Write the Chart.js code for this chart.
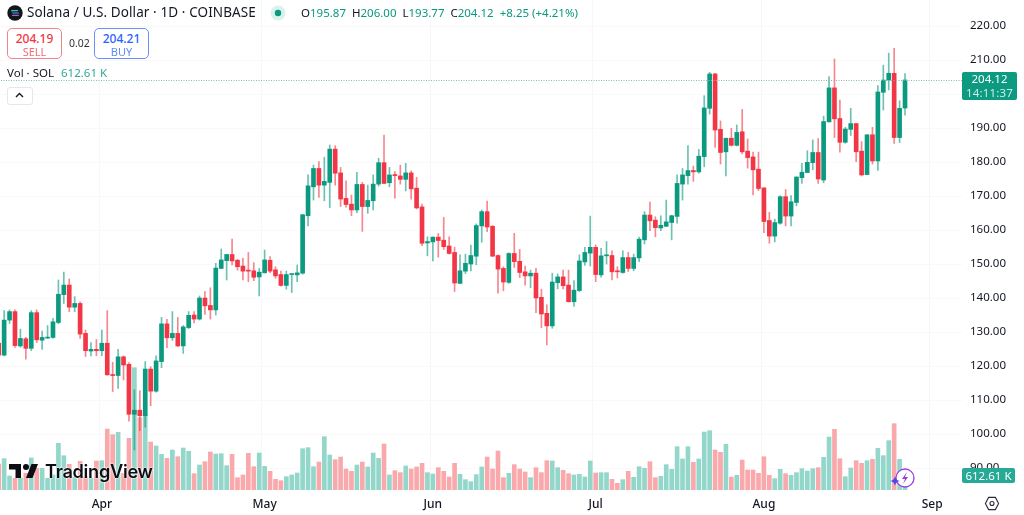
<!DOCTYPE html>
<html>
<head>
<meta charset="utf-8">
<title>Solana / U.S. Dollar</title>
<script src="https://cdn.jsdelivr.net/npm/chart.js@4/dist/chart.umd.js"></script>
<style>
  html, body { margin: 0; padding: 0; background: #fff; width: 1024px; height: 515px; overflow: hidden; }
  body { position: relative; font-family: "Noto Sans", sans-serif; color: #131722; }
  #chart { position: absolute; left: -4px; top: 0; }
  .txt { position: absolute; white-space: nowrap; line-height: 1; }
  .box { position: absolute; top: 28px; width: 53px; height: 29px; border: 1px solid; border-radius: 5px; background: #fff; text-align: center; }
  .box b { display: block; font-weight: 500; font-size: 12px; margin-top: 3px; line-height: 14px; }
  .box span { display: block; font-size: 11px; line-height: 12px; opacity: .75; }
  .tag { position: absolute; color: #fff; border-radius: 2px; text-align: center; }
  .g { color: #089981; }
  svg { position: absolute; overflow: visible; }
</style>
</head>
<body>
<canvas id="chart" width="1028" height="515"></canvas>

<svg style="left:7px;top:5px" width="16" height="16" viewBox="0 0 16 16">
  <circle cx="8" cy="8" r="7.7" fill="#14161c"/>
  <path d="M4.6 5h6.8l-1 1.2H3.6z" fill="#27d9b0"/><path d="M4.6 7.4h6.8l1 1.2H5.6z" fill="#5aa5e0"/><path d="M4.6 11h6.8l1-1.2H5.6z" fill="#a35cf0"/>
</svg>
<div class="txt" style="left:27px;top:6px;font-size:13.5px;letter-spacing:.1px">Solana / U.S. Dollar · 1D · COINBASE</div>
<svg style="left:270px;top:5px" width="16" height="16"><circle cx="8" cy="8" r="7.5" fill="#d9f2ec"/><circle cx="8" cy="8" r="3.2" fill="#089981"/></svg>
<div class="txt" style="left:301px;top:7px;font-size:11.5px">O<span class="g">195.87</span>&nbsp; H<span class="g">206.00</span>&nbsp; L<span class="g">193.77</span>&nbsp; C<span class="g">204.12</span>&nbsp; <span class="g">+8.25 (+4.21%)</span></div>

<div class="box" style="left:7px;border-color:#f2828c;color:#f23645"><b>204.19</b><span>SELL</span></div>
<div class="txt" style="left:69px;top:38px;font-size:10.5px;color:#333">0.02</div>
<div class="box" style="left:94px;border-color:#6d8ff5;color:#2962ff"><b>204.21</b><span>BUY</span></div>

<div class="txt" style="left:7px;top:67px;font-size:11.5px">Vol · SOL</div>
<div class="txt g" style="left:61px;top:67px;font-size:11.5px;opacity:.85">612.61 K</div>

<div style="position:absolute;left:7px;top:87px;width:24px;height:16px;border:1px solid #e6e8ee;border-radius:3px;background:#fff"></div>
<svg style="left:14px;top:91px" width="11" height="8"><path d="M2 6l3.5-3.5L9 6" fill="none" stroke="#131722" stroke-width="1.4"/></svg>

<div class="tag" style="left:962px;top:72px;width:55px;height:28px;background:#0c9a80;font-size:11.5px;line-height:14px">204.12<br><span style="opacity:.8;letter-spacing:.2px">14:11:37</span></div>
<div class="tag" style="left:962px;top:468px;width:53px;height:15px;background:#26a995;font-size:11.5px;line-height:15px">612.61 K</div>

<svg style="left:9px;top:463px" width="30" height="17" viewBox="0 0 30 17">
  <path d="M0 1h12v14H6.5V6.5H0z" fill="#0c0e14"/><circle cx="17" cy="4" r="3" fill="#0c0e14"/><path d="M22.5 1H29l-5.5 14H17z" fill="#0c0e14"/>
</svg>
<div class="txt" style="left:45px;top:462px;font-family:Inter,sans-serif;font-weight:600;font-size:18.2px;letter-spacing:-.3px;color:#0c0e14;text-shadow:0 0 2px #fff,0 0 2px #fff">TradingView</div>

<svg style="left:890px;top:468px" width="26" height="24" viewBox="0 0 26 24">
  <circle cx="15" cy="10" r="9" fill="#fff" stroke="#9a3fe0" stroke-width="1.3"/>
  <path d="M17 4l-5 7h3l-2 5 5-7h-3z" fill="#9a3fe0"/>
  <path d="M5 8c.6 3.2 1.8 4.4 5 5-3.2.6-4.4 1.8-5 5-.6-3.2-1.8-4.4-5-5 3.2-.6 4.4-1.8 5-5z" fill="#4f46ee"/>
</svg>
<svg style="left:985px;top:496px" width="14" height="15" viewBox="0 0 14 15">
  <path d="M3.6 1.4h6.8L13.6 7.5l-3.2 6.1H3.6L.4 7.5z" fill="none" stroke="#2a2e39" stroke-width="1.1"/><circle cx="7" cy="7.5" r="2" fill="none" stroke="#2a2e39" stroke-width="1.1"/>
</svg>

<script>
const priceTicks = [90, 100, 110, 120, 130, 140, 150, 160, 170, 180, 190, 200, 210, 220];
const monthTicks = { 'Apr 1': 'Apr', 'May 1': 'May', 'Jun 1': 'Jun', 'Jul 1': 'Jul', 'Aug 1': 'Aug', 'Sep 1': 'Sep' };
const lastPrice = 204.12;

const opens = [
  126.7,123.2,133.5,136,125.9,128,125.2,135.7,127.6,128.2,
  128.4,132.8,141,143.8,137.3,138.4,129.6,124.4,124.9,124.5,
  126.7,117.5,117.2,122.7,120.5,105.8,107,105.4,119.1,112.6,
  121.3,132.4,128.3,129.6,125.9,131.3,135,133.8,140,137.8,
  136.5,148.7,151,152.8,151.1,149.4,148.1,148,146.2,147.4,
  151.1,148.3,146.9,143.7,146.9,146.8,147.3,164.2,172.7,178.1,
  173.2,174,183.8,176.8,169.3,167.6,165.9,173.4,166.9,168.6,
  173.5,179.8,173.9,176.3,175.9,174.9,176.8,172.3,166.8,156.2,
  156.5,157.9,157,155.3,153.4,144.3,147.9,150,152.3,161.2,
  165.4,161.1,152.5,148.7,144.6,153.1,150.8,147.7,146.5,147.3,
  140.2,135.5,131.8,144.5,146.2,143.8,138.9,142.2,150.6,153.2,
  154.9,146.8,152.4,152.5,148,147.5,151.9,148.7,151.8,157.1,
  164.4,162.9,160.6,161.1,162.2,164,173.5,176,177.5,177.1,
  181.6,195.8,205.9,189.6,183,187,184.9,188.9,183.2,181.5,
  177.9,172.4,162.8,158.2,162,169.8,164.1,168.1,175.4,176.9,
  179.8,182.8,174.7,191.8,201.8,192.8,185.8,189.6,191.3,183.2,
  176.3,188,180.3,200.5,204.1,206.1,187.2,195.87
];
const closes = [
  123.2,133.5,136,126,128.1,125.2,135.7,127.7,128.4,128.4,
  133,141.1,143.8,137.3,138.4,129.4,124.5,124.9,124.5,126.7,
  117.4,117.2,122.7,120.3,105.8,107,105.4,119.1,112.6,121.5,
  132.4,128.3,129.6,125.9,131.5,134.9,133.8,140,137.7,136.5,
  148.8,151.2,152.8,150.9,149.2,147.9,147.9,146.1,147.6,151.2,
  147.9,146.5,143.7,146.9,147,147.4,164.5,173,178.1,173.2,
  174.3,183.8,176.7,169.1,167.5,165.9,173.4,166.9,168.7,173.5,
  179.8,173.7,176.2,176,174.9,176.8,172.1,166.5,156.1,156.6,
  157.9,156.9,155.1,153.1,144.4,148,150.2,152.5,161.3,165.4,
  160.9,152.3,148.5,144.7,153.1,150.7,147.5,146.5,147.3,140,
  135.3,131.8,144.7,146.2,143.6,138.9,142.3,150.9,153.4,154.9,
  146.9,152.4,152.6,147.7,147.7,151.9,148.7,151.9,157.3,164.4,
  162.7,160.7,161.4,162.4,164.2,173.7,176.2,177.5,177.1,181.7,
  195.9,205.9,189.4,182.8,187,184.9,188.7,183,181.3,177.7,
  172.2,162.5,158.2,162.2,169.8,164.1,168.3,175.6,177,179.9,
  182.8,175,191.9,201.8,192.7,185.8,189.7,191.3,183,176.2,
  188,180.3,200.6,204.1,206.1,187.2,195.8,204.12
];
const highs = [
  128.1,136.3,136.5,136.5,130.8,128.4,136.3,136.5,130.3,131.9,
  134,145.3,147.6,145.6,140.4,138.9,130.6,126.9,127.8,130.6,
  136.3,121.1,124.9,123,121,113,112.7,121.3,119.8,123,
  134.3,133.7,136,134.3,131.9,136,136,140.6,141.9,143,
  150.2,154.4,152.8,157.3,151.4,151.7,153.4,150.4,148.7,154.1,
  152.2,149.2,147.9,147.9,147.1,149.7,164.6,176.2,179.1,180.1,
  181.4,185,184.8,178.4,174.5,170.3,177,174,173.2,176.2,
  181.1,187.9,178.4,177.2,179.1,179.6,177.4,175.5,167.6,158,
  158,159,163.7,158,154.9,152.7,152.9,155.6,161.8,165.9,
  168.5,161.3,152.7,149.2,153.3,159,154.3,149.4,148.2,148.7,
  142.6,138,147.3,147.1,148.2,148.2,145.1,152.7,154.9,164.1,
  155.6,154.6,156.6,153.9,149.2,153.9,153.4,152.9,157.9,165.4,
  168.2,163.9,164.2,168.8,164.4,176.2,178.1,184.8,178.8,183.7,
  199.5,206.4,206.1,192.1,187,189.9,190.9,195.5,186.8,182.9,
  182.9,172.4,165.2,163.2,170.1,171.9,170.1,175.6,179.6,183.3,
  186.5,186.9,193.5,205.1,210.3,198.2,190.2,195.8,191.4,186,
  188.1,190.2,202.5,208.5,212,213.4,198,206
];
const lows = [
  123,123,132.5,125.5,125.5,122,124.5,126.9,124.9,128.1,
  128.1,132.4,138.4,136,136,128.1,122.8,123,123,123,
  117.3,112.5,113.4,115.9,103.8,95.3,101,102,108.3,112.3,
  119.5,125.4,127.5,125.7,123.7,131,132.7,133.5,135.2,133.8,
  135,148.7,145.3,149.7,148.2,145.3,144.8,145.1,140.6,147.4,
  147.4,145.8,143.5,142.6,141.6,144.8,147,161.2,168.8,169.6,
  168.6,166.6,173.2,166.9,166.7,164.2,165.1,159.6,164.9,165.9,
  172.9,173.6,172.7,169.4,173.5,171.5,169.1,166.2,155.4,152.4,
  150.9,152,154.3,152.9,141.9,144.3,147.2,148,149.8,156.4,
  159.5,152.2,141.4,142.1,144.3,149,146,143.8,143,135.7,
  131.3,126.2,131.1,142.7,142.7,138.8,137.5,141.9,149.6,149.4,
  144.8,146.1,150,145.3,145.9,147.3,147.8,148,150.7,155.9,
  159.8,158,159.8,161,157.1,162,168.8,173.5,174.3,176.7,
  178.6,194.1,184.3,179.4,175.9,184.7,184.7,182.4,178.2,170.3,
  171.6,159.2,156.1,156.5,161.7,161.2,161.2,167.1,173.7,176.9,
  177.7,173.7,173.9,191.8,187.2,182.9,185.5,187.8,180.1,175.9,
  176.2,179.4,177.5,195.3,201.2,185.5,185.7,193.77
];
// volume in K SOL
const volumes = [
  1060,1278,572,476,476,680,1306,884,884,476,
  612,1904,1400,1048,544,1170,544,476,1184,1196,
  2488,2258,2352,680,2108,4992,2952,3088,1958,1796,
  1456,1292,1632,1360,1714,1578,666,1020,1156,1550,
  1468,1482,992,1456,504,612,1496,952,1510,966,
  762,436,380,544,612,694,1686,1728,952,1142,
  2176,1428,1238,1346,856,762,1020,1142,938,1510,
  1292,1876,612,788,708,980,856,938,1088,708,
  652,912,762,530,1088,640,422,340,626,938,
  1346,856,1592,504,680,1034,856,734,504,912,
  708,1196,1184,912,802,666,612,640,530,1184,
  694,707,707,435,272,422,762,517,952,884,
  1156,503,558,1034,843,1768,1265,1768,1129,1265,
  2366,2421,1632,1537,1863,530,598,1224,816,816,
  680,1360,598,462,843,666,598,707,870,775,
  870,911,1333,2162,2475,1278,544,898,1197,1088,
  1197,1251,1700,1401,2013,2706,1251,612.61
];

// days from Mar 13 to Sep 7, the last ones are the empty space right of the last candle
const monthNames = ['Jan', 'Feb', 'Mar', 'Apr', 'May', 'Jun', 'Jul', 'Aug', 'Sep'];
const categories = [];
for (let i = 0; i < 178; i++) {
  const d = new Date(2025, 2, 13 + i);
  categories.push(monthNames[d.getMonth()] + ' ' + d.getDate());
}

const isUp = opens.map((o, i) => closes[i] >= o);
const pick = (up, down) => isUp.map(u => u ? up : down);

// scales keep asking for room for their first and last label, the plot has to reach the edges
function noPadding(s) {
  s.paddingLeft = s.paddingRight = s.paddingTop = s.paddingBottom = 0;
}

// draws the dotted last price line
const lastPriceLine = {
  id: 'lastPriceLine',
  afterDatasetsDraw(chart) {
    const y = Math.round(chart.scales.y.getPixelForValue(lastPrice)) + 0.5;
    const c = chart.ctx;
    c.save();
    c.strokeStyle = '#86b9ad';
    c.lineWidth = 1;
    c.setLineDash([1, 1.5]);
    c.beginPath();
    c.moveTo(0, y);
    c.lineTo(chart.chartArea.right + 4, y);
    c.stroke();
    c.restore();
  }
};

new Chart(document.getElementById('chart'), {
  type: 'bar',
  data: {
    labels: categories,
    datasets: [
      {
        label: 'Volume',
        data: volumes,
        yAxisID: 'yVol',
        backgroundColor: pick('#93d6ca', '#f9a9ab'),
        barThickness: 4,
        order: 3
      },
      {
        label: 'Wick',
        data: lows.map((l, i) => [l, highs[i]]),
        yAxisID: 'y',
        backgroundColor: pick('rgba(8,153,129,.6)', 'rgba(242,54,69,.6)'),
        barThickness: 1,
        order: 2
      },
      {
        label: 'Body',
        data: opens.map((o, i) => [o, closes[i]]),
        yAxisID: 'y',
        backgroundColor: pick('#0b9a7f', '#f23645'),
        barThickness: 4,
        minBarLength: 1,
        order: 1
      }
    ]
  },
  options: {
    responsive: false,
    animation: false,
    layout: { autoPadding: false, padding: 0 },
    datasets: { bar: { grouped: false, borderWidth: 0 } },
    plugins: { legend: { display: false }, tooltip: { enabled: false } },
    scales: {
      x: {
        afterFit(s) { s.height = 25; noPadding(s); },
        grid: {
          drawTicks: false,
          color: ctx => (ctx.tick && ctx.tick.label ? '#f6f7f8' : 'rgba(0,0,0,0)')
        },
        border: { display: false },
        ticks: {
          autoSkip: false,
          maxRotation: 0,
          padding: 7,
          color: '#131722',
          font: { family: '"Noto Sans"', size: 12, weight: '500' },
          callback(value) { return monthTicks[this.getLabelForValue(value)] || ''; }
        }
      },
      y: {
        position: 'right',
        min: 83.53,
        max: 227.65,
        afterFit(s) { s.width = 62; noPadding(s); },
        afterBuildTicks(s) { s.ticks = priceTicks.map(v => ({ value: v })); },
        grid: { drawTicks: false, color: '#f9f9fa' },
        border: { display: false },
        ticks: {
          padding: 8,
          color: '#131722',
          font: { family: '"Noto Sans"', size: 11.5 },
          callback: v => v.toFixed(2)
        }
      },
      yVol: {
        display: false,
        min: 0,
        max: 20000,
        afterFit: noPadding
      }
    }
  },
  plugins: [lastPriceLine]
});
</script>
</body>
</html>
